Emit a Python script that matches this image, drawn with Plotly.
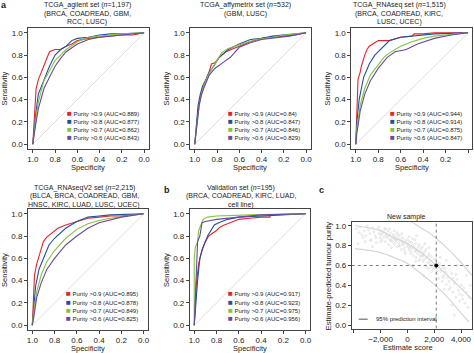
import plotly.graph_objects as go

W, H = 474, 353
FONT = "Liberation Sans, Arial, sans-serif"
COLORS = ["#e3262b", "#22509b", "#82c341", "#6a4a9c"]
THRESH = ["Purity >0.9", "Purity >0.8", "Purity >0.7", "Purity >0.6"]

# ---------------- data: ROC curves (specificity, sensitivity) ----------------
agilent_auc = ["0.889", "0.877", "0.862", "0.843"]
agilent_spec = [
    [1.0, 0.99, 0.98, 0.97, 0.95, 0.93, 0.9, 0.87, 0.85, 0.8, 0.75, 0.7, 0.65, 0.6, 0.5, 0.4, 0.3, 0.2, 0.1, 0.0],
    [1.0, 0.99, 0.97, 0.95, 0.92, 0.9, 0.85, 0.8, 0.75, 0.7, 0.65, 0.6, 0.5, 0.4, 0.3, 0.2, 0.0],
    [1.0, 0.99, 0.97, 0.95, 0.93, 0.9, 0.85, 0.8, 0.75, 0.7, 0.6, 0.5, 0.4, 0.3, 0.2, 0.0],
    [1.0, 0.99, 0.97, 0.95, 0.93, 0.9, 0.85, 0.8, 0.75, 0.7, 0.6, 0.5, 0.4, 0.3, 0.2, 0.0],
]
agilent_sens = [
    [0.0, 0.2, 0.4, 0.5, 0.58, 0.63, 0.7, 0.77, 0.83, 0.85, 0.85, 0.88, 0.9, 0.93, 0.95, 0.96, 0.97, 0.98, 0.98, 1.0],
    [0.0, 0.12, 0.3, 0.45, 0.53, 0.58, 0.7, 0.8, 0.85, 0.88, 0.93, 0.95, 0.96, 0.98, 0.99, 0.99, 1.0],
    [0.0, 0.1, 0.25, 0.38, 0.45, 0.57, 0.66, 0.75, 0.8, 0.85, 0.92, 0.96, 0.97, 0.98, 0.99, 1.0],
    [0.0, 0.08, 0.2, 0.32, 0.4, 0.5, 0.6, 0.7, 0.77, 0.83, 0.9, 0.94, 0.96, 0.97, 0.98, 1.0],
]

affy_auc = ["0.84", "0.847", "0.846", "0.829"]
affy_spec = [
    [1.0, 0.99, 0.97, 0.95, 0.93, 0.9, 0.88, 0.85, 0.82, 0.78, 0.72, 0.65, 0.6, 0.5, 0.4, 0.3, 0.2, 0.1, 0.0],
    [1.0, 0.99, 0.97, 0.95, 0.93, 0.9, 0.88, 0.83, 0.78, 0.7, 0.6, 0.5, 0.4, 0.3, 0.2, 0.0],
    [1.0, 0.99, 0.96, 0.94, 0.92, 0.88, 0.83, 0.76, 0.7, 0.6, 0.45, 0.3, 0.2, 0.0],
    [1.0, 0.99, 0.96, 0.94, 0.92, 0.87, 0.82, 0.75, 0.68, 0.6, 0.5, 0.4, 0.3, 0.15, 0.0],
]
affy_sens = [
    [0.0, 0.1, 0.3, 0.42, 0.5, 0.57, 0.62, 0.72, 0.73, 0.78, 0.83, 0.86, 0.88, 0.92, 0.95, 0.96, 0.97, 0.98, 1.0],
    [0.0, 0.1, 0.35, 0.45, 0.52, 0.58, 0.63, 0.7, 0.78, 0.85, 0.9, 0.94, 0.95, 0.97, 0.98, 1.0],
    [0.0, 0.1, 0.35, 0.45, 0.52, 0.62, 0.7, 0.82, 0.86, 0.89, 0.94, 0.96, 0.98, 1.0],
    [0.0, 0.1, 0.35, 0.44, 0.5, 0.62, 0.68, 0.73, 0.78, 0.87, 0.91, 0.94, 0.95, 0.97, 1.0],
]

rnaseq_auc = ["0.944", "0.914", "0.875", "0.847"]
rnaseq_spec = [
    [1.0, 0.995, 0.99, 0.98, 0.96, 0.95, 0.92, 0.9, 0.88, 0.85, 0.8, 0.75, 0.7, 0.6, 0.5, 0.48, 0.4, 0.3, 0.0],
    [1.0, 0.99, 0.97, 0.95, 0.93, 0.9, 0.88, 0.83, 0.78, 0.75, 0.7, 0.6, 0.5, 0.4, 0.3, 0.0],
    [1.0, 0.99, 0.96, 0.92, 0.87, 0.8, 0.75, 0.7, 0.6, 0.5, 0.4, 0.3, 0.2, 0.0],
    [1.0, 0.99, 0.96, 0.92, 0.87, 0.8, 0.72, 0.65, 0.55, 0.45, 0.3, 0.15, 0.0],
]
rnaseq_sens = [
    [0.0, 0.2, 0.4, 0.58, 0.65, 0.7, 0.8, 0.85, 0.88, 0.9, 0.93, 0.93, 0.93, 0.96, 0.97, 0.99, 0.99, 1.0, 1.0],
    [0.0, 0.2, 0.4, 0.52, 0.6, 0.67, 0.72, 0.8, 0.85, 0.88, 0.93, 0.96, 0.97, 0.98, 0.99, 1.0],
    [0.0, 0.15, 0.35, 0.5, 0.62, 0.72, 0.78, 0.82, 0.88, 0.92, 0.95, 0.97, 0.98, 1.0],
    [0.0, 0.1, 0.3, 0.45, 0.57, 0.68, 0.78, 0.83, 0.85, 0.9, 0.95, 0.98, 1.0],
]

rnaseqv2_auc = ["0.895", "0.878", "0.849", "0.825"]
rnaseqv2_spec = [
    [1.0, 0.99, 0.98, 0.96, 0.93, 0.9, 0.87, 0.82, 0.77, 0.7, 0.6, 0.5, 0.4, 0.3, 0.2, 0.0],
    [1.0, 0.99, 0.97, 0.94, 0.9, 0.85, 0.8, 0.7, 0.6, 0.5, 0.4, 0.3, 0.0],
    [1.0, 0.99, 0.96, 0.92, 0.87, 0.8, 0.7, 0.6, 0.5, 0.4, 0.3, 0.0],
    [1.0, 0.99, 0.96, 0.92, 0.87, 0.8, 0.7, 0.6, 0.5, 0.4, 0.2, 0.0],
]
rnaseqv2_sens = [
    [0.0, 0.2, 0.45, 0.55, 0.65, 0.75, 0.79, 0.83, 0.87, 0.9, 0.93, 0.96, 0.97, 0.98, 0.98, 1.0],
    [0.0, 0.15, 0.35, 0.5, 0.6, 0.72, 0.78, 0.87, 0.93, 0.97, 0.98, 0.99, 1.0],
    [0.0, 0.1, 0.3, 0.45, 0.57, 0.67, 0.78, 0.86, 0.91, 0.94, 0.96, 1.0],
    [0.0, 0.05, 0.25, 0.38, 0.5, 0.6, 0.72, 0.8, 0.87, 0.92, 0.97, 1.0],
]

valid_auc = ["0.917", "0.923", "0.975", "0.956"]
valid_spec = [
    [1.0, 0.99, 0.98, 0.96, 0.93, 0.9, 0.87, 0.83, 0.8, 0.77, 0.73, 0.65, 0.6, 0.5, 0.4, 0.32, 0.32, 0.0],
    [1.0, 0.99, 0.97, 0.95, 0.92, 0.88, 0.85, 0.82, 0.78, 0.7, 0.6, 0.4, 0.2, 0.0],
    [1.0, 1.0, 0.99, 0.97, 0.96, 0.94, 0.92, 0.88, 0.8, 0.5, 0.0],
    [1.0, 0.99, 0.98, 0.97, 0.95, 0.93, 0.9, 0.85, 0.8, 0.6, 0.4, 0.0],
]
valid_sens = [
    [0.0, 0.2, 0.38, 0.55, 0.68, 0.75, 0.8, 0.83, 0.85, 0.88, 0.9, 0.93, 0.95, 0.96, 0.97, 0.97, 0.99, 1.0],
    [0.0, 0.15, 0.4, 0.6, 0.7, 0.8, 0.85, 0.9, 0.92, 0.95, 0.97, 0.98, 0.99, 1.0],
    [0.0, 0.6, 0.7, 0.75, 0.85, 0.9, 0.95, 0.97, 0.98, 0.99, 1.0],
    [0.0, 0.3, 0.55, 0.75, 0.8, 0.92, 0.93, 0.94, 0.95, 0.97, 0.99, 1.0],
]

# ---------------- data: panel c ----------------
fit_score = [-3900, -3000, -2000, -1000, 0, 1000, 2000, 3000, 4000, 4800]
fit_purity = [1.0, 0.98, 0.95, 0.88, 0.82, 0.73, 0.62, 0.5, 0.37, 0.26]
upper_score = [300, 1000, 2000, 3000, 4000, 4800]
upper_purity = [1.04, 0.98, 0.89, 0.77, 0.63, 0.5]
lower_score = [-3900, -3000, -2000, -1000, 0, 1000, 2000, 3000, 4000, 4600]
lower_purity = [0.77, 0.755, 0.73, 0.68, 0.62, 0.52, 0.41, 0.28, 0.12, 0.03]

cloud_score = [
    -3800, -3600, -3500, -3300, -3200, -3100, -3000, -3700,
    -2900, -2800, -2700, -2600, -2500, -2400, -2300, -2200, -2100, -2050, -2000, -2600,
    -1950, -1900, -1800, -1750, -1700, -1650, -1600, -1500, -1450, -1400, -1350, -1300, -1250, -1200, -1150, -1100, -1050, -1000,
    -950, -900, -850, -800, -750, -700, -650, -600, -550, -500, -450, -400, -350, -300, -250, -200, -150, -100, -50, 0,
    50, 100, 150, 200, 250, 300, 350, 400, 450, 500, 550, 600, 650, 700, 750, 800, 850, 900, 950, 1000, 400, 700,
    1050, 1100, 1150, 1200, 1250, 1300, 1350, 1400, 1500, 1550, 1600, 1700, 1750, 1800, 1900, 1950, 2000, 1300, 1600, 1200,
    2100, 2200, 2300, 2400, 2500, 2600, 2700, 2800, 2900, 3000, 2450, 2750, 2150, 2900,
    3100, 3200, 3300, 3400, 3500, 3600, 3700, 3800, 3900, 4000, 3500, 3300, 3700,
    4100, 4200, 4300, 4400, 4500, 4600, 4700, 4400,
    -1550, -1850, -850, -350, 150, 650, 1150, 1650, 2250, 2650, -2350, -1250, -650, 250, 950, 1450,
    -3400, -2750, -1620, -720, -180, 380, 880, 1380, 1880, 2380, 2880, 3380, 3880, -3150, -2150, -980,
    -420, 120, 620, 1120, 1620, 2120, 2620, 3120, 3620, 4120, -1980, -1320, 560, 1760,
]
cloud_purity = [
    0.97, 0.93, 0.99, 0.88, 0.95, 0.90, 1.0, 0.82,
    0.96, 0.92, 0.86, 0.98, 0.94, 0.90, 0.83, 0.97, 0.92, 0.88, 0.95, 0.79,
    0.91, 0.86, 0.94, 0.89, 0.97, 0.84, 0.92, 0.88, 0.95, 0.81, 0.90, 0.86, 0.93, 0.78, 0.88, 0.84, 0.91, 0.87,
    0.82, 0.89, 0.85, 0.93, 0.79, 0.87, 0.83, 0.90, 0.80, 0.86, 0.76, 0.84, 0.88, 0.81, 0.77, 0.85, 0.72, 0.83, 0.79, 0.86,
    0.81, 0.76, 0.84, 0.79, 0.72, 0.83, 0.77, 0.80, 0.70, 0.78, 0.74, 0.82, 0.68, 0.76, 0.72, 0.79, 0.65, 0.74, 0.70, 0.77, 0.60, 0.90,
    0.69, 0.73, 0.64, 0.71, 0.66, 0.74, 0.60, 0.68, 0.63, 0.70, 0.57, 0.65, 0.60, 0.54, 0.62, 0.56, 0.66, 0.82, 0.78, 0.50,
    0.58, 0.52, 0.47, 0.60, 0.54, 0.44, 0.50, 0.57, 0.41, 0.48, 0.68, 0.36, 0.75, 0.65,
    0.44, 0.38, 0.52, 0.33, 0.42, 0.28, 0.46, 0.35, 0.24, 0.40, 0.10, 0.20, 0.60,
    0.30, 0.37, 0.22, 0.33, 0.18, 0.28, 0.40, 0.50,
    0.90, 0.93, 0.86, 0.82, 0.78, 0.75, 0.70, 0.62, 0.55, 0.48, 0.88, 0.85, 0.80, 0.74, 0.66, 0.58,
    0.91, 0.85, 0.97, 0.91, 0.74, 0.87, 0.81, 0.76, 0.58, 0.62, 0.53, 0.47, 0.31, 0.84, 0.99, 0.95,
    0.92, 0.89, 0.64, 0.79, 0.72, 0.67, 0.58, 0.36, 0.51, 0.26, 0.84, 0.97, 0.86, 0.69,
]
new_sample_score = [2150]
new_sample_purity = [0.6]

# ---------------- layout helpers ----------------
def px_x(p):
    return p / W

def px_y(p):
    return 1 - p / H

fig = go.Figure()
layout = dict(
    width=W, height=H, margin=dict(l=0, r=0, t=0, b=0),
    paper_bgcolor="white", plot_bgcolor="white", showlegend=False,
    font=dict(family=FONT, size=8, color="#222"),
)
annotations = []
shapes = []

def ann(x, y, text, size=7, xanchor="center", yanchor="middle", **kw):
    d = dict(x=x, y=y, xref="paper", yref="paper", text=text, showarrow=False,
             xanchor=xanchor, yanchor=yanchor, font=dict(family=FONT, size=size, color="#222"))
    d.update(kw)
    annotations.append(d)

axis_common = dict(
    showgrid=False, zeroline=False, showline=True, mirror=True, linecolor="#444", linewidth=0.8,
    ticks="outside", ticklen=3, tickwidth=0.8, tickcolor="#444",
    tickfont=dict(family=FONT, size=8, color="#222"),
)

roc_ticks = [1.0, 0.8, 0.6, 0.4, 0.2, 0.0]

panels = [
    (1, agilent_spec, agilent_sens, agilent_auc, (27.5, 148.5), (27.5, 148.5), [1.04, -0.04]),
    (2, affy_spec, affy_sens, affy_auc, (190.5, 311.5), (27.5, 148.5), [1.04, -0.04]),
    (3, rnaseq_spec, rnaseq_sens, rnaseq_auc, (352.5, 474), (27.5, 148.5), [1.04, -0.035]),
    (4, rnaseqv2_spec, rnaseqv2_sens, rnaseqv2_auc, (27, 148), (209.5, 330.5), [1.04, -0.04]),
    (5, valid_spec, valid_sens, valid_auc, (190, 311), (209.5, 330.5), [1.04, -0.04]),
]

for n, specs, senss, aucs, xf, yf, xr in panels:
    xa = f"x{n}" if n > 1 else "x"
    ya = f"y{n}" if n > 1 else "y"
    layout[f"xaxis{n}"] = dict(axis_common, domain=[px_x(xf[0]), px_x(xf[1])], range=xr, anchor=ya,
                               tickvals=roc_ticks, tickformat=".1f")
    layout[f"yaxis{n}"] = dict(axis_common, domain=[px_y(yf[1]), px_y(yf[0])], range=[-0.04, 1.04], anchor=xa,
                               tickvals=roc_ticks, tickformat=".1f")
    fig.add_trace(go.Scatter(x=[1, 0], y=[0, 1], mode="lines", xaxis=xa, yaxis=ya,
                             line=dict(color="#d4d4d4", width=0.8), hoverinfo="skip"))
    for i in range(4):
        fig.add_trace(go.Scatter(x=specs[i], y=senss[i], mode="lines", xaxis=xa, yaxis=ya,
                                 line=dict(color=COLORS[i], width=1.1),
                                 name=f"{THRESH[i]} (AUC={aucs[i]})"))
    for i in range(4):
        annotations.append(dict(
            x=0.715, y=0.28 - i * 0.072, xref=xa, yref=ya,
            text=f'<span style="color:{COLORS[i]};font-size:8px">■</span> {THRESH[i]} (AUC={aucs[i]})',
            showarrow=False, xanchor="left", yanchor="middle",
            font=dict(family=FONT, size=6, color="#222")))
    xc = (xf[0] + xf[1]) / 2
    yc = (yf[0] + yf[1]) / 2
    ann(px_x(xc), px_y(yf[1] + 18.5), "Specificity", size=7.5)
    ann(px_x(xf[0] - 23.5), px_y(yc), "Sensitivity", size=7.5, textangle=-90)

def title_lines(xc, ys, lines):
    for y, t in zip(ys, lines):
        ann(px_x(xc), px_y(y), t, size=7)

title_lines(87, [4.5, 13, 21.5], ["TCGA_agilent set (<i>n</i>=1,197)", "(BRCA, COADREAD, GBM,", "RCC, LUSC)"])
title_lines(246, [4.5, 13], ["TCGA_affymetrix set (<i>n</i>=532)", "(GBM, LUSC)"])
title_lines(401, [4.5, 13, 21.5], ["TCGA_RNAseq set (<i>n</i>=1,515)", "(BRCA, COADREAD, KIRC,", "LUSC, UCEC)"])
title_lines(84, [188, 196.5, 205], ["TCGA_RNAseqV2 set (<i>n</i>=2,215)", "(BLCA, BRCA, COADREAD, GBM,", "HNSC, KIRC, LUAD, LUSC, UCEC)"])
title_lines(242, [188, 196.5, 205], ["Validation set (<i>n</i>=195)", "(BRCA, COADREAD, KIRC, LUAD,", "cell line)"])
title_lines(408, [217], ["New sample"])

ann(px_x(3), px_y(4), "<b>a</b>", size=9)
ann(px_x(167), px_y(190), "<b>b</b>", size=9)
ann(px_x(323), px_y(190), "<b>c</b>", size=9)

# ---------------- panel c ----------------
layout["xaxis6"] = dict(axis_common, domain=[px_x(353), 1.0], range=[-4150, 4815], anchor="y6",
                        tickvals=[-4000, -2000, 0, 2000, 4000],
                        ticktext=["", "\u22122,000", "0", "2,000", "4,000"])
layout["yaxis6"] = dict(axis_common, domain=[px_y(329.5), px_y(222.5)], range=[-0.035, 1.035], anchor="x6",
                        tickvals=[0, 0.2, 0.4, 0.6, 0.8, 1.0], tickformat=".1f")

fig.add_trace(go.Scatter(x=cloud_score, y=cloud_purity, mode="markers", xaxis="x6", yaxis="y6",
                         marker=dict(symbol="circle-open", size=2, color="#cdcdcd", line=dict(width=0.5)),
                         hoverinfo="skip"))
for xs, ys in [(fit_score, fit_purity), (upper_score, upper_purity), (lower_score, lower_purity)]:
    fig.add_trace(go.Scatter(x=xs, y=ys, mode="lines", xaxis="x6", yaxis="y6",
                             line=dict(color="#d6d6d6", width=1.2, shape="spline"), hoverinfo="skip"))
fig.add_trace(go.Scatter(x=[new_sample_score[0], new_sample_score[0]], y=[-0.035, 1.035], mode="lines",
                         xaxis="x6", yaxis="y6", line=dict(color="#444", width=0.7, dash="dot"), hoverinfo="skip"))
fig.add_trace(go.Scatter(x=[-4150, 4815], y=[new_sample_purity[0], new_sample_purity[0]], mode="lines",
                         xaxis="x6", yaxis="y6", line=dict(color="#444", width=0.7, dash="dot"), hoverinfo="skip"))
fig.add_trace(go.Scatter(x=new_sample_score, y=new_sample_purity, mode="markers", xaxis="x6", yaxis="y6",
                         marker=dict(color="black", size=4), hoverinfo="skip"))

shapes.append(dict(type="line", xref="paper", yref="paper", x0=px_x(360), x1=px_x(372), y0=px_y(320), y1=px_y(320),
                   line=dict(color="#555", width=1, dash="dash")))
ann(px_x(375), px_y(320), "95% prediction interval", size=6, xanchor="left")
ann(px_x(410), px_y(348), "Estimate score", size=7.5)
ann(px_x(330), px_y(276), "Estimate-predicted tumour purity", size=7.5, textangle=-90)

layout["annotations"] = annotations
layout["shapes"] = shapes
fig.update_layout(**layout)
fig.write_html("out.html")
